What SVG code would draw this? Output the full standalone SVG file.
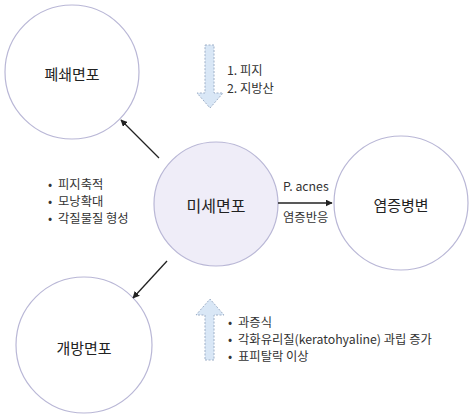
<svg xmlns="http://www.w3.org/2000/svg" width="474" height="418" viewBox="0 0 474 418">
<style>
.node{fill:#ffffff;stroke:#b9b7d6;stroke-width:1.2}
.center{fill:#efedf8;stroke:#b9b7d6;stroke-width:1.2}
.lbl{font-family:"Noto Sans CJK KR","Noto Sans",sans-serif;font-size:15px;fill:#222;text-anchor:middle;dominant-baseline:central}
.txt{font-family:"Noto Sans CJK KR","Noto Sans",sans-serif;font-size:12.3px;fill:#333}
.conn{stroke:#222;stroke-width:1.3;fill:none;marker-end:url(#ah)}
.big{fill:#d9e7f6;stroke:#9fb0c8;stroke-width:1;stroke-dasharray:2,1.5}
</style>
<defs>
<marker id="ah" viewBox="0 0 10 10" refX="9" refY="5" markerWidth="7" markerHeight="7" orient="auto" markerUnits="userSpaceOnUse">
<path d="M0,0 L10,5 L0,10 z" fill="#222"/>
</marker>
</defs>
<g id="node-closed"><circle class="node" cx="72" cy="72" r="67"/><text class="lbl" x="72" y="73">폐쇄면포</text></g>
<g id="node-open"><circle class="node" cx="84" cy="345" r="68"/><text class="lbl" x="84" y="347">개방면포</text></g>
<g id="node-micro"><circle class="center" cx="216" cy="204" r="62"/><text class="lbl" x="216" y="205" style="font-size:16px">미세면포</text></g>
<g id="node-inflam"><circle class="node" cx="401" cy="203" r="67"/><text class="lbl" x="401" y="204">염증병변</text></g>
<g id="connectors">
<line class="conn" x1="159" y1="158" x2="121" y2="120"/>
<line class="conn" x1="167" y1="261" x2="133" y2="298"/>
<line class="conn" x1="278" y1="203" x2="332" y2="203"/>
</g>
<g id="arrow-down"><path class="big" d="M205,45 L214,45 L214,93 L223,93 L210,108 L197,93 L205,93 z"/></g>
<g id="arrow-up"><path class="big" d="M205,360 L214,360 L214,315 L224,315 L210,299 L196,315 L205,315 z"/></g>
<g id="labels">
<text class="txt" x="227" y="75">1. 피지</text>
<text class="txt" x="227" y="93">2. 지방산</text>
<text class="txt" x="283" y="191">P. acnes</text>
<text class="txt" x="283" y="222">염증반응</text>
<text class="txt" x="48" y="189">•</text><text class="txt" x="58" y="189">피지축적</text>
<text class="txt" x="48" y="206">•</text><text class="txt" x="58" y="206">모낭확대</text>
<text class="txt" x="48" y="223">•</text><text class="txt" x="58" y="223">각질물질 형성</text>
<text class="txt" x="228" y="327">•</text><text class="txt" x="238" y="327">과증식</text>
<text class="txt" x="228" y="344">•</text><text class="txt" x="238" y="344">각화유리질(keratohyaline) 과립 증가</text>
<text class="txt" x="228" y="361">•</text><text class="txt" x="238" y="361">표피탈락 이상</text>
</g>
</svg>
